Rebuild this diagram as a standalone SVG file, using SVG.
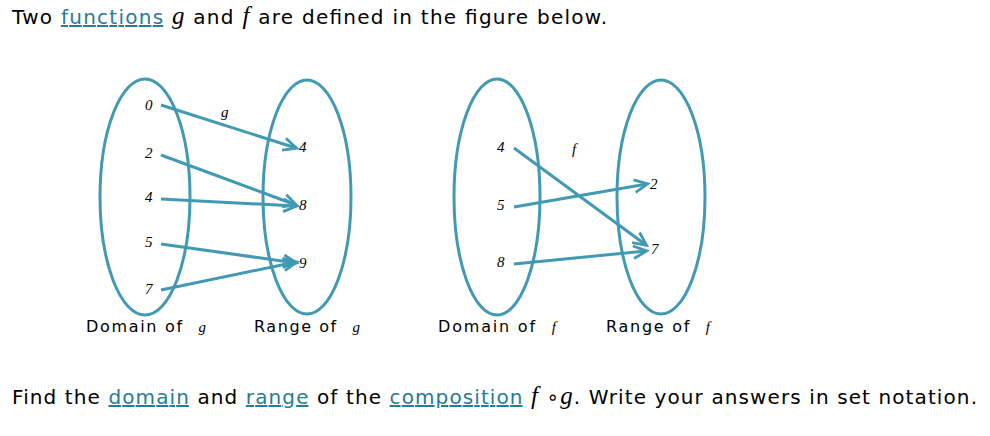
<svg xmlns="http://www.w3.org/2000/svg" width="990" height="436" viewBox="0 0 990 436">
<style>
.t{font-family:"DejaVu Sans",Verdana,sans-serif;font-size:20px;fill:#000}
.l{fill:#2a7a94}
.m{font-family:"Liberation Serif",serif;font-style:italic;font-size:15px}
.mb{font-family:"Liberation Serif",serif;font-style:italic;font-size:25px}
.c{font-family:"DejaVu Sans",Verdana,sans-serif;font-size:16px}
.e{fill:none;stroke:#4199b2;stroke-width:3}
.a{stroke:#4199b2;stroke-width:3;fill:none;marker-end:url(#ah)}
</style>
<defs><marker id="ah" viewBox="0 0 10 10" refX="9" refY="5" markerWidth="14" markerHeight="14" orient="auto" markerUnits="userSpaceOnUse" style="overflow:visible"><path d="M0,0.5 L9.5,5 L0,9.5" fill="none" stroke="#4199b2" stroke-width="2"/></marker></defs>
<rect width="990" height="436" fill="#fff"/>
<text class="t" x="12" y="24" textLength="595" lengthAdjust="spacing">Two <tspan class="l" text-decoration="underline">functions</tspan> <tspan class="mb">g</tspan> and <tspan class="mb">f</tspan> are defined in the figure below.</text>
<g id="domain-g"><ellipse class="e" cx="145" cy="197" rx="45" ry="118"/>
<text class="m" x="145" y="110">0</text><text class="m" x="145" y="158">2</text><text class="m" x="145" y="202">4</text><text class="m" x="145" y="247">5</text><text class="m" x="145" y="294">7</text>
<text class="c" x="86" y="332" textLength="120" lengthAdjust="spacing">Domain of  <tspan class="m" dx="8">g</tspan></text></g>
<g id="range-g"><ellipse class="e" cx="307" cy="197" rx="44" ry="117"/>
<text class="m" x="299" y="152">4</text><text class="m" x="299" y="210">8</text><text class="m" x="299" y="268">9</text>
<text class="c" x="254" y="332" textLength="106" lengthAdjust="spacing">Range of  <tspan class="m" dx="8">g</tspan></text></g>
<g id="domain-f"><ellipse class="e" cx="497" cy="197" rx="43" ry="118"/>
<text class="m" x="497" y="152">4</text><text class="m" x="497" y="210">5</text><text class="m" x="497" y="267">8</text>
<text class="c" x="438" y="332" textLength="118" lengthAdjust="spacing">Domain of  <tspan class="m" dx="8">f</tspan></text></g>
<g id="range-f"><ellipse class="e" cx="661" cy="197" rx="44" ry="117"/>
<text class="m" x="650" y="189">2</text><text class="m" x="651" y="254">7</text>
<text class="c" x="606" y="332" textLength="104" lengthAdjust="spacing">Range of  <tspan class="m" dx="8">f</tspan></text></g>
<g id="connectors">
<path class="a" d="M161,105 L296,148"/><path class="a" d="M161,155 L296,205"/><path class="a" d="M161,199 L296,206"/><path class="a" d="M161,244 L296,263"/><path class="a" d="M161,290 L296,262"/>
<path class="a" d="M514,148 L646,245"/><path class="a" d="M514,207 L647,184"/><path class="a" d="M514,264 L646,251"/>
<text class="m" x="221" y="117">g</text><text class="m" x="572" y="154">f</text>
</g>
<text class="t" x="12" y="404" textLength="965" lengthAdjust="spacing">Find the <tspan class="l" text-decoration="underline">domain</tspan> and <tspan class="l" text-decoration="underline">range</tspan> of the <tspan class="l" text-decoration="underline">composition</tspan> <tspan class="mb">f</tspan> ∘<tspan class="mb">g</tspan>. Write your answers in set notation.</text>
</svg>
